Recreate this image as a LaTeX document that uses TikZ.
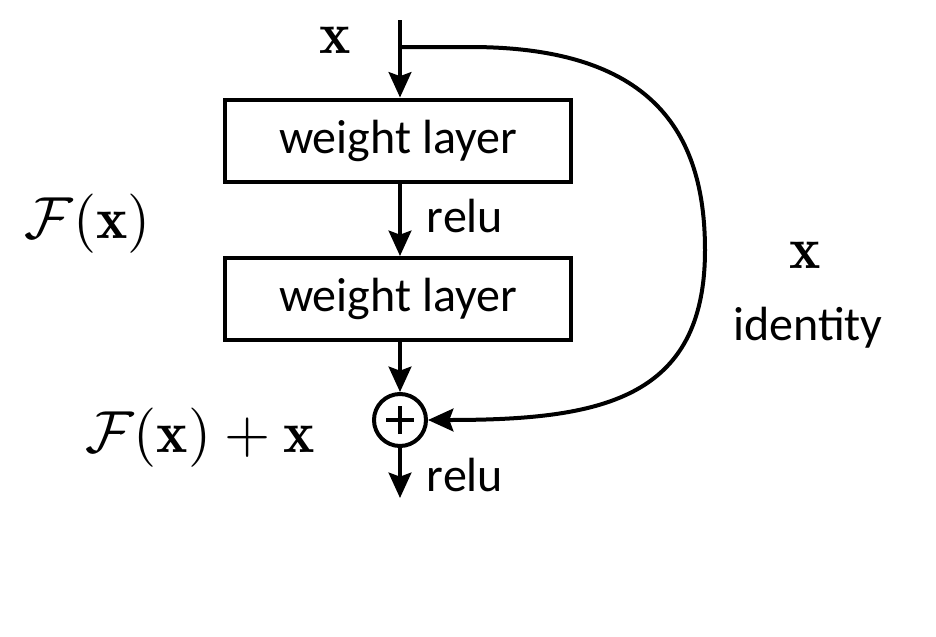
\documentclass[tikz,border=0pt]{standalone}
\usepackage{amsmath}
\usepackage{graphicx}
\usepackage{fontspec}
\newfontfamily\calib{Carlito}
\usetikzlibrary{arrows.meta}
\newcommand{\resmath}[1]{\scalebox{4.45}{$#1$}}
\tikzset{
  wl/.style={draw, line width=3pt, minimum width=259.5pt, minimum height=61.5pt, inner sep=0pt, font=\calib\fontsize{36}{43}\selectfont},
  lab/.style={font=\calib\fontsize{36}{43}\selectfont, inner sep=0pt},
  mlab/.style={inner sep=0pt},
  conn/.style={line width=3pt, -{Stealth[length=19pt,width=17pt,inset=3pt]}},
}
\begin{document}
\begin{tikzpicture}[x=0.75pt,y=-0.75pt]
\useasboundingbox (0,0) rectangle (936,636);
\coordinate (top) at (400,20);
\coordinate (split) at (400,47);
\coordinate (bend) at (470,47);
\node[wl] (w1) at (398,140.5) {weight layer};
\node[wl] (w2) at (398,299) {weight layer};
\node[draw, circle, line width=3pt, minimum size=39pt, inner sep=0pt] (add) at (400,420) {};
\draw[line width=2.6pt] ([xshift=-10.5pt]add.center) -- ([xshift=10.5pt]add.center);
\draw[line width=2.6pt] ([yshift=-10.5pt]add.center) -- ([yshift=10.5pt]add.center);
\coordinate (out) at (400,498);
\draw[conn] (top) -- (w1.north -| top);
\draw[conn] (w1.south -| top) -- (w2.north -| top);
\draw[conn] (w2.south -| top) -- (add.north);
\draw[conn] (add.south) -- (out);
\draw[conn] (split) -- (bend) .. controls (650,47) and (705,130) .. (705,250) .. controls (705,400) and (600,420) .. (add.east);
\node[mlab] (x0) at (335,40) {\resmath{\mathbf{x}}};
\node[lab] (r1) at (465,216) {relu};
\node[lab] (r2) at (465,475) {relu};
\node[mlab] (fx) at (88,224) {\resmath{\mathcal{F}(\mathbf{x})}};
\node[mlab] (xr) at (805,255) {\resmath{\mathbf{x}}};
\node[lab] (id) at (808,328) {identity};
\node[mlab] (fxx) at (200,438) {\resmath{\mathcal{F}(\mathbf{x}) + \mathbf{x}}};
\end{tikzpicture}
\end{document}
